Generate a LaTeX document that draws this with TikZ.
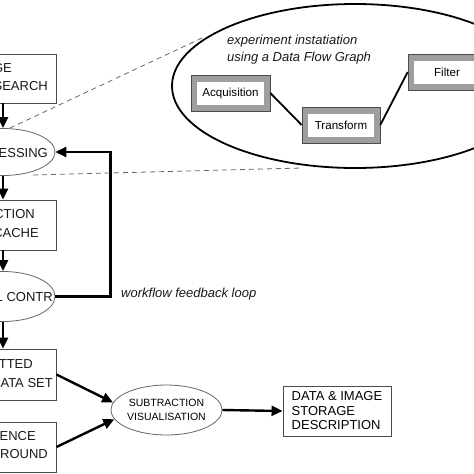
\documentclass[tikz,border=0pt]{standalone}
\usepackage{fontspec}
\setmainfont{Liberation Sans}
\usetikzlibrary{arrows.meta,shapes.geometric}
\begin{document}
\begin{tikzpicture}[x=1pt,y=-1pt,
  box/.style={draw=black!70, line width=0.9pt, rectangle, inner sep=0pt},
  oval/.style={draw=black!60, line width=0.8pt, ellipse, inner sep=0pt},
  frag/.style={font=\fontsize{13}{14.5}\selectfont, inner sep=0pt, anchor=base east, text=black!90},
  flow/.style={line width=2.4pt, -{Triangle[length=11pt,width=10pt]}},
  dfgout/.style={draw=black!70, fill=black!38, line width=0.6pt, rectangle, inner sep=0pt},
  dfgin/.style={fill=white, rectangle, inner sep=0pt, font=\fontsize{11.6}{13}\selectfont},
  dfglink/.style={line width=1.8pt},
  zoomline/.style={draw=black!60, line width=0.8pt, dash pattern=on 5pt off 4pt},
  note/.style={font=\fontsize{13}{17}\itshape, inner sep=0pt, text=black!90}]
\useasboundingbox (0,0) rectangle (474,474);
\clip (0,0) rectangle (474,474);

% left column (cut off at the left edge)
\node[box, minimum width=106pt, minimum height=49pt] (b1) at (3,78.5) {};
\node[oval, minimum width=104pt, minimum height=47pt] (e1) at (3,152) {};
\node[box, minimum width=106pt, minimum height=50pt] (b2) at (3,225) {};
\node[oval, minimum width=104pt, minimum height=50pt] (e2) at (3,296.5) {};
\node[box, minimum width=106pt, minimum height=51pt] (b3) at (3,374.5) {};
\node[box, minimum width=106pt, minimum height=50pt] (b4) at (3,447) {};

\node[frag] (t1a) at (12,72) {GE};
\node[frag] (t1b) at (48,90) {SEARCH};
\node[frag] (t2) at (48,157) {ESSING};
\node[frag] (t3a) at (35,218) {CTION};
\node[frag] (t3b) at (39,237) {CACHE};
\node[frag] (t4) at (53,301) {L CONTR};
\node[frag] (t5a) at (33,368) {TTED};
\node[frag] (t5b) at (53,387) {ATA SET};
\node[frag] (t6a) at (36,440) {ENCE};
\node[frag] (t6b) at (48,458) {ROUND};

\draw[flow] (b1.south) -- (e1.north);
\draw[flow] (e1.south) -- (b2.north);
\draw[flow] (b2.south) -- (e2.north);
\draw[flow] (e2.south) -- (b3.north);

% feedback loop
\draw[flow] (e2.east) -- ++(55,0) |- (e1.east);
\node[note, anchor=base west] (fb) at (121,297) {workflow feedback loop};

% subtraction and storage
\node[oval, minimum width=107pt, minimum height=50pt, align=center,
      font=\fontsize{10.5}{14}\selectfont] (sub) at (166.5,410) {SUBTRACTION\\VISUALISATION};
\node[box, minimum width=108pt, minimum height=50pt, align=left,
      font=\fontsize{13}{14.5}\selectfont] (st) at (337,411) {DATA \& IMAGE\\STORAGE\\DESCRIPTION};
\draw[flow] (b3.east) -- (sub.172);
\draw[flow] (b4.east) -- (sub.190);
\draw[flow] (sub.east) -- (st.west);

% data flow graph inset
\node[ellipse, draw=black, line width=1.8pt, minimum width=366pt, minimum height=164pt, inner sep=0pt] (dfg) at (355,86) {};
\node[note, anchor=base west, align=left] (dfgt) at (227,44) {experiment instatiation};
\node[note, anchor=base west, align=left] (dfgt2) at (227,61) {using a Data Flow Graph};

\node[dfgout, minimum width=79pt, minimum height=36pt] (acq) at (230.5,93) {};
\node[dfgin, minimum width=67pt, minimum height=23pt] (acqi) at (acq) {Acquisition};
\node[dfgout, minimum width=78pt, minimum height=36pt] (tr) at (341,125) {};
\node[dfgin, minimum width=66pt, minimum height=23pt] (tri) at (tr) {Transform};
\node[dfgout, minimum width=78pt, minimum height=36pt] (fi) at (447,72) {};
\node[dfgin, minimum width=66pt, minimum height=23pt] (fii) at (fi) {Filter};
\draw[dfglink] (acq.east) -- (tr.west);
\draw[dfglink] (tr.east) -- (fi.west);

% zoom lines
\coordinate (z1a) at (10,128);
\coordinate (z1b) at (202,38);
\coordinate (z2a) at (33,175);
\coordinate (z2b) at (302,168);
\draw[zoomline] (z1a) -- (z1b);
\draw[zoomline] (z2a) -- (z2b);
\end{tikzpicture}
\end{document}
